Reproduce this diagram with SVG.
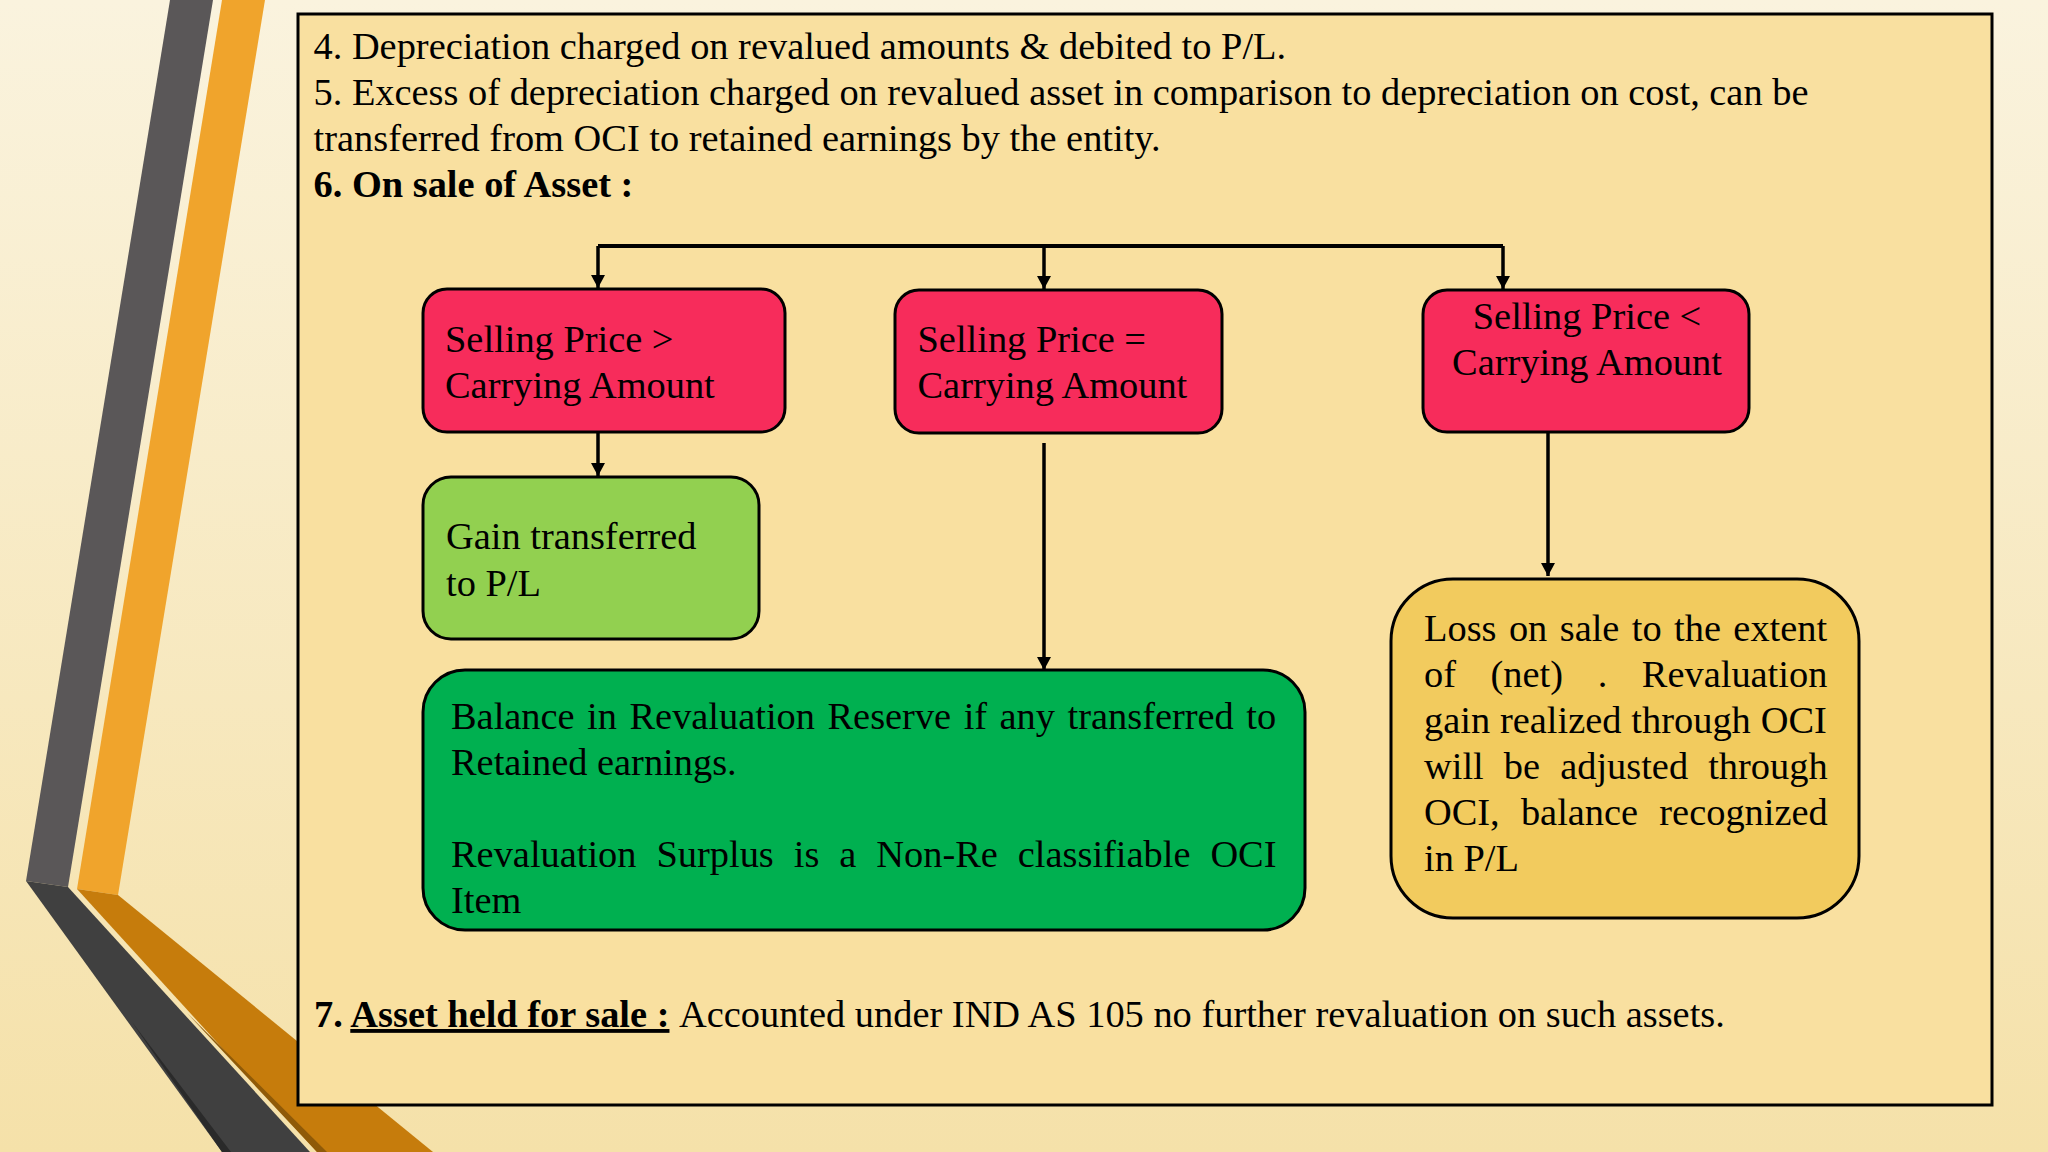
<svg xmlns="http://www.w3.org/2000/svg" width="2048" height="1152" viewBox="0 0 2048 1152">
<style>
text{font-family:"Liberation Serif","Times New Roman",serif;font-size:38.4px;fill:#000}
.b{font-weight:700}
.box{stroke:#000;stroke-width:3}
.c{fill:none;stroke:#000;stroke-width:3.5;marker-end:url(#a)}
.l{fill:none;stroke:#000;stroke-width:4}
</style>
<defs>
<linearGradient id="bg" x1="0" y1="0" x2="0" y2="1"><stop offset="0" stop-color="#FAF3DE"/><stop offset="1" stop-color="#F5E1A9"/></linearGradient>
<marker id="a" markerUnits="userSpaceOnUse" markerWidth="15" markerHeight="14" refX="13" refY="7" orient="auto"><path d="M0 0L13 7L0 14z" fill="#000"/></marker>
</defs>
<rect width="2048" height="1152" fill="url(#bg)"/>
<path d="M170 0H213L68 887L26 881z" fill="#5A5758"/>
<path d="M222 0H265L118 895L77 889z" fill="#F0A42C"/>
<path d="M26 881L68 887L310 1152H222z" fill="#404040"/>
<path d="M132 1022L231 1152H222z" fill="#2A2A2A"/>
<path d="M77 889L118 895L433 1152H317z" fill="#C67C0C"/>
<path d="M187 1013L327 1152H317z" fill="#8F5A08"/>
<rect id="panel" x="298" y="14" width="1694" height="1091" fill="#F9E0A0" stroke="#000" stroke-width="3"/>
<g id="heading">
<text x="313.500" y="59">4. Depreciation charged on revalued amounts &amp; debited to P/L.</text>
<text x="313.500" y="105">5. Excess of depreciation charged on revalued asset in comparison to depreciation on cost, can be</text>
<text x="313.500" y="151">transferred from OCI to retained earnings by the entity.</text>
<text x="313.500" y="197" class="b">6. On sale of Asset :</text>
</g>
<g id="connectors">
<path class="l" d="M598 246H1503"/>
<path class="c" d="M598 246V288"/>
<path class="c" d="M1044 246V289"/>
<path class="c" d="M1503 246V289"/>
<path class="c" d="M598 432V476"/>
<path class="c" d="M1044 443V670"/>
<path class="c" d="M1548 432V576"/>
</g>
<g id="n1"><rect class="box" x="423" y="289" width="362" height="143" rx="24" fill="#F72C5B"/>
<text x="445" y="352">Selling Price &gt;</text><text x="445" y="398">Carrying Amount</text></g>
<g id="n2"><rect class="box" x="895" y="290" width="327" height="143" rx="24" fill="#F72C5B"/>
<text x="917.500" y="352">Selling Price =</text><text x="917.500" y="398">Carrying Amount</text></g>
<g id="n3"><rect class="box" x="1423" y="290" width="326" height="142" rx="24" fill="#F72C5B"/>
<text x="1587" y="329" text-anchor="middle">Selling Price &lt;</text><text x="1587" y="375" text-anchor="middle">Carrying Amount</text></g>
<g id="n4"><rect class="box" x="423" y="477" width="336" height="162" rx="28" fill="#92D050"/>
<text x="446" y="549">Gain transferred</text><text x="446" y="595.500">to P/L</text></g>
<g id="n5"><rect class="box" x="423" y="670" width="882" height="260" rx="42" fill="#00B050"/>
<text x="451" y="728.500" style="word-spacing:2.900px">Balance in Revaluation Reserve if any transferred to</text>
<text x="451" y="774.500">Retained earnings.</text>
<text x="451" y="866.500" style="word-spacing:10.350px">Revaluation Surplus is a Non-Re classifiable OCI</text>
<text x="451" y="912.500">Item</text></g>
<g id="n6"><rect class="box" x="1391" y="579" width="468" height="339" rx="62" fill="#F2CB5E"/>
<text x="1424" y="641" style="word-spacing:2.800px">Loss on sale to the extent</text>
<text x="1424" y="687" style="word-spacing:25px">of (net) . Revaluation</text>
<text x="1424" y="733" style="word-spacing:.3px">gain realized through OCI</text>
<text x="1424" y="779" style="word-spacing:10.500px">will be adjusted through</text>
<text x="1424" y="825" style="word-spacing:11.600px">OCI, balance recognized</text>
<text x="1424" y="871">in P/L</text></g>
<g id="footer"><text x="314" y="1027"><tspan class="b">7. </tspan><tspan class="b" text-decoration="underline">Asset held for sale :</tspan><tspan dx="2"> Accounted under IND AS 105 no further revaluation on such assets.</tspan></text></g>
</svg>
